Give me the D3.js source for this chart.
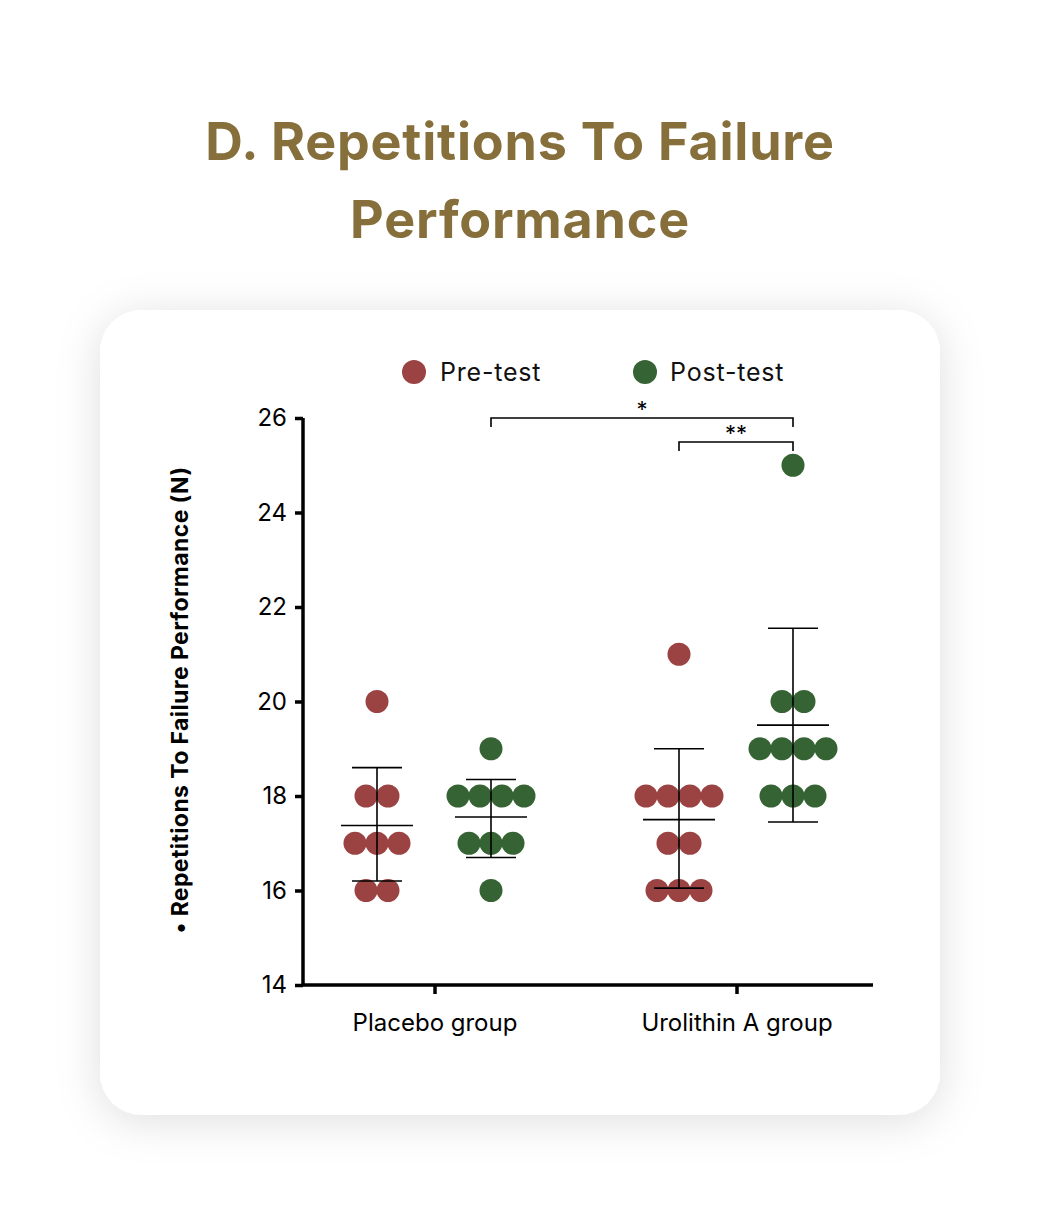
<!DOCTYPE html>
<html><head><meta charset="utf-8">
<script src="https://cdn.jsdelivr.net/npm/d3@7"></script>
<style>body{margin:0;background:#fff;font-family:Inter,"Open Sans",sans-serif}</style>
</head><body><svg id="c" width="1040" height="1215"></svg>
<script>
const groups = ["Placebo group", "Urolithin A group"];
const seriesNames = ["Pre-test", "Post-test"];
const placeboPre = [20, 18, 18, 17, 17, 17, 16, 16];
const placeboPost = [19, 18, 18, 18, 18, 17, 17, 17, 16];
const uaPre = [21, 18, 18, 18, 18, 17, 17, 16, 16, 16];
const uaPost = [25, 20, 20, 19, 19, 19, 19, 18, 18, 18];
const errLow = [16.2, 16.7, 16.05, 17.45];
const errHigh = [18.6, 18.35, 19.0, 21.55];
const yTicks = [14, 16, 18, 20, 22, 24, 26];
const colors = ["#9b4242", "#366333"];

const svg = d3.select("#c");
const defs = svg.append("defs");
const f = defs.append("filter").attr("id","sh").attr("x","-20%").attr("y","-20%").attr("width","140%").attr("height","140%");
f.append("feDropShadow").attr("dx",0).attr("dy",6).attr("stdDeviation",22).attr("flood-color","#000").attr("flood-opacity",0.13);
svg.append("rect").attr("x",100).attr("y",310).attr("width",840).attr("height",805).attr("rx",42).attr("fill","#fff").attr("filter","url(#sh)");

svg.append("text").attr("x",520).attr("y",160).attr("text-anchor","middle").attr("font-size",52).attr("font-weight",700).attr("letter-spacing",0.8).attr("fill","#866f3a").text("D. Repetitions To Failure");
svg.append("text").attr("x",520).attr("y",238).attr("text-anchor","middle").attr("font-size",52).attr("font-weight",700).attr("letter-spacing",0.8).attr("fill","#866f3a").text("Performance");

[[414,440],[645,670]].forEach((p,i)=>{
  svg.append("circle").attr("cx",p[0]).attr("cy",372).attr("r",12).attr("fill",colors[i]);
  svg.append("text").attr("x",p[1]).attr("y",381).attr("font-size",25).attr("letter-spacing",0.8).attr("fill","#111").text(seriesNames[i]);
});

const y = d3.scaleLinear().domain([14,26]).range([985,418]);
const x = d3.scaleBand().domain(groups).range([284,888]).paddingInner(0).paddingOuter(0);
const g = svg.append("g");
const ya = g.append("g").attr("transform","translate(303,0)").call(d3.axisLeft(y).tickValues(yTicks).tickSize(8).tickSizeOuter(0).tickPadding(8));
const xa = g.append("g").attr("transform","translate(0,985)").call(d3.axisBottom(x).tickSize(9).tickSizeOuter(0).tickPadding(20));
[ya,xa].forEach(a=>{a.select(".domain").attr("stroke","#000").attr("stroke-width",3.5);a.selectAll(".tick line").attr("stroke","#000").attr("stroke-width",3.5);a.selectAll("text").attr("font-size",24).attr("fill","#000").attr("font-family","Inter,'Open Sans',sans-serif");});
ya.select(".domain").attr("d","M0,418V985");
xa.select(".domain").attr("d","M303,0H873");

svg.append("text").attr("transform","translate(188,700) rotate(-90)").attr("text-anchor","middle").attr("font-size",23).attr("font-weight",700).attr("letter-spacing",0.4).attr("fill","#000").text("• Repetitions To Failure Performance (N)");

const sets = [[placeboPre,0,0],[placeboPost,0,1],[uaPre,1,0],[uaPost,1,1]];
const sub = [-58,56];
sets.forEach(([vals,gi,si],k)=>{
  const cx = x(groups[gi]) + x.bandwidth()/2 + sub[si];
  const counts = d3.rollup(vals,v=>v.length,d=>d);
  const pts=[];
  counts.forEach((n,v)=>{for(let i=0;i<n;i++)pts.push({v,off:(i-(n-1)/2)*22});});
  svg.selectAll(null).data(pts).join("circle").attr("cx",d=>cx+d.off).attr("cy",d=>y(d.v)).attr("r",11.5).attr("fill",colors[si]);
  const m = d3.mean(vals);
  const eg = svg.append("g").attr("stroke","#000").attr("stroke-width",1.6);
  eg.append("line").attr("x1",cx).attr("x2",cx).attr("y1",y(errLow[k])).attr("y2",y(errHigh[k]));
  eg.append("line").attr("x1",cx-36).attr("x2",cx+36).attr("y1",y(m)).attr("y2",y(m));
  eg.append("line").attr("x1",cx-25).attr("x2",cx+25).attr("y1",y(errLow[k])).attr("y2",y(errLow[k]));
  eg.append("line").attr("x1",cx-25).attr("x2",cx+25).attr("y1",y(errHigh[k])).attr("y2",y(errHigh[k]));
});
const cxOf=(gi,si)=>x(groups[gi])+x.bandwidth()/2+sub[si];
function bracket(x1,x2,yy,label){
  svg.append("path").attr("d",`M${x1},${yy+9}V${yy}H${x2}V${yy+9}`).attr("fill","none").attr("stroke","#000").attr("stroke-width",1.6);
  svg.append("text").attr("x",(x1+x2)/2).attr("y",yy-1).attr("text-anchor","middle").attr("font-size",22).attr("fill","#000").text(label);
}
bracket(cxOf(0,1),cxOf(1,1),418,"*");
bracket(cxOf(1,0),cxOf(1,1),442,"**");
</script></body></html>
